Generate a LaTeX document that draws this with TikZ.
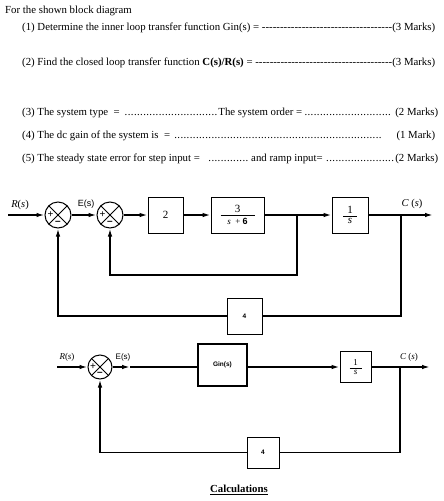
\documentclass[tikz,border=0pt]{standalone}
\usepackage{fontspec}
\setmainfont{Liberation Serif}
\setsansfont{Liberation Sans}
\usetikzlibrary{arrows.meta}
\newcommand\myfrac[3]{\vbox{\hbox to #3{\hss#1\hss}\kern2.5pt\hrule height0.6pt\kern2.5pt\hbox to #3{\hss#2\hss}}}
\newcommand\dashlead{\xleaders\hbox{-}\hfill}
\newcommand\dotlead{\leaders\hbox to 3.1pt{\hss.\hss}\hfill}
\newcommand\dotseg[1]{\leaders\hbox to 3.1pt{\hss.\hss}\hskip #1}
\begin{document}
\begin{tikzpicture}[x=1pt,y=-1pt,
  txt/.style={anchor=west,inner sep=0pt,font=\fontsize{10.8}{12}\selectfont},
  blk/.style={draw,line width=0.8pt,inner sep=0pt,fill=white},
  sumnode/.style={circle,draw,line width=1pt,minimum size=26pt,inner sep=0pt,
    path picture={\draw[line width=0.9pt]
      (path picture bounding box.north west) -- (path picture bounding box.south east)
      (path picture bounding box.north east) -- (path picture bounding box.south west);}},
  pm/.style={inner sep=0pt,font=\sffamily\fontsize{10}{10}\selectfont},
  sig/.style={line width=1.5pt},
  arr/.style={sig,-{Latex[length=8pt,width=4.5pt]}},
  lbl/.style={inner sep=0pt,font=\fontsize{10.5}{10}\selectfont}
]
\useasboundingbox (0,0) rectangle (444,501);
% ---------- text ----------
\node[txt] (t0) at (5,11) {For the shown block diagram};
\node[txt] (t1) at (22,28) {\hbox to 413pt{(1) Determine the inner loop transfer function Gin(s) = \dashlead(3 Marks)}};
\node[txt] (t2) at (22,63) {\hbox to 413pt{(2) Find the closed loop transfer function \textbf{C(s)/R(s)} = \dashlead(3 Marks)}};
\node[txt] (t3) at (22,113) {\hbox to 416pt{(3) The system type \ = \dotseg{96pt}The system order =\dotlead\ (2 Marks)}};
\node[txt] (t4) at (22,136) {\hbox to 413pt{(4) The dc gain of the system is \ = \dotlead\hspace{12pt}(1 Mark)}};
\node[txt] (t5) at (22,159) {\hbox to 416pt{(5) The steady state error for step input = \ \dotseg{46pt}and ramp input= \dotlead(2 Marks)}};
% ---------- top diagram ----------
\coordinate (in1) at (8,215);
\node[sumnode] (s1) at (58,215) {};
\node[sumnode] (s2) at (110,215) {};
\node[blk,minimum width=35pt,minimum height=36pt,font=\fontsize{11}{11}\selectfont] (g2) at (165.5,215) {2};
\node[blk,minimum width=53pt,minimum height=36pt] (g3) at (237.5,215)
  {\myfrac{\fontsize{11}{11}\selectfont 3}{\fontsize{9}{9}\selectfont\textit{s}\ \ +\ \textbf{\sffamily 6}}{34pt}};
\node[blk,minimum width=36pt,minimum height=36pt] (g4) at (350,215)
  {\myfrac{\fontsize{11}{11}\selectfont 1}{\fontsize{11}{11}\selectfont\textit{s}}{14pt}};
\node[blk,minimum width=35pt,minimum height=36pt,font=\sffamily\bfseries\fontsize{6.5}{6.5}\selectfont] (h1) at (244.5,316) {4};
\coordinate (p1) at (297,215);
\coordinate (fb1) at (297,275);
\coordinate (p2) at (401,215);
\coordinate (out1) at (433,215);
\draw[arr] (in1) -- (s1.west);
\draw[arr] (s1.east) -- (s2.west);
\draw[arr] (s2.east) -- (g2.west);
\draw[arr] (g2.east) -- (g3.west);
\draw[arr] (g3.east) -- (g4.west);
\draw[arr] (g4.east) -- (out1);
\draw[arr] (p1) -- (fb1) -| (s2.south);
\draw[sig] (p2) |- (h1.east);
\draw[arr] (h1.west) -| (s1.south);
\node[pm] (s1p) at ([xshift=-7.5pt]s1.center) {+};
\node[pm] (s1m) at ([yshift=-7.5pt]s1.center) {\textbf{--}};
\node[pm] (s2p) at ([xshift=-7.5pt]s2.center) {+};
\node[pm] (s2m) at ([yshift=-7.5pt]s2.center) {\textbf{--}};
\node[lbl] (lr1) at (20,205) {\textit{R}(\textit{s})};
\node[lbl,font=\sffamily\fontsize{9}{9}\selectfont] (le1) at (86,204) {E(s)};
\node[lbl] (lc1) at (412,204) {\textit{C} (\textit{s})};
% ---------- bottom diagram ----------
\coordinate (in2) at (57,367);
\node[sumnode,minimum size=24pt] (s3) at (100,367) {};
\coordinate (ea) at (130,367);
\node[blk,line width=2.2pt,minimum width=49pt,minimum height=42pt,font=\sffamily\bfseries\fontsize{6.5}{6.5}\selectfont] (gin) at (222.5,365) {Gin(s)};
\node[blk,minimum width=31pt,minimum height=31pt] (g5) at (355.5,367)
  {\myfrac{\fontsize{9}{9}\selectfont 1}{\fontsize{9}{9}\selectfont\textit{s}}{12pt}};
\coordinate (p3) at (400,367);
\coordinate (out2) at (430,367);
\node[blk,minimum width=32pt,minimum height=31pt,font=\sffamily\bfseries\fontsize{6.5}{6.5}\selectfont] (h2) at (263,452.5) {4};
\draw[arr] (in2) -- (s3.west);
\draw[arr] (s3.east) -- (ea);
\draw[sig] (ea) -- (ea -| gin.west);
\draw[arr] (gin.east |- ea) -- (g5.west);
\draw[arr] (g5.east) -- (out2);
\draw[sig] (p3) |- (h2.east);
\draw[arr] (h2.west) -| (s3.south);
\node[pm] (s3p) at ([xshift=-7pt]s3.center) {+};
\node[pm] (s3m) at ([yshift=-7pt]s3.center) {\textbf{--}};
\node[lbl,font=\fontsize{9}{9}\selectfont] (lr2) at (67,357) {\textit{R}(\textit{s})};
\node[lbl,font=\sffamily\fontsize{8}{8}\selectfont] (le2) at (123,357) {E(s)};
\node[lbl,font=\fontsize{9}{9}\selectfont] (lc2) at (409,357) {\textit{C} (\textit{s})};
\node[lbl,font=\bfseries\fontsize{10.8}{11}\selectfont] (calc) at (239,490) {\underline{Calculations}};
\end{tikzpicture}
\end{document}
